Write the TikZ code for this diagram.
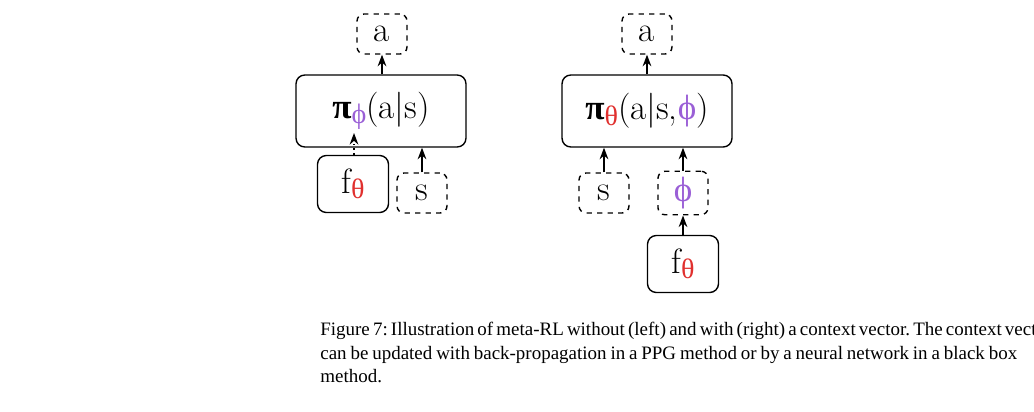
\documentclass[tikz,border=0pt]{standalone}
\usepackage{fontspec}
\setmainfont{Liberation Serif}
\newfontfamily\lmr{Latin Modern Roman}
\usetikzlibrary{arrows.meta}
\definecolor{phicol}{HTML}{9A5FD6}
\definecolor{thetacol}{HTML}{E0302E}
\tikzset{>=Stealth,
  solid box/.style={draw, thick, rounded corners=5pt},
  var box/.style={draw, thick, dashed, rounded corners=4pt, minimum width=1cm, minimum height=0.8cm},
  big/.style={font=\lmr\fontsize{20}{22}\selectfont}}
\newcommand{\gr}[1]{{\rmfamily #1}}
\newcommand{\tht}{\textcolor{thetacol}{\gr{θ}}}
\newcommand{\ph}{\textcolor{phicol}{\gr{ϕ}}}
\newcommand{\sub}[1]{\raisebox{-0.35ex}{\fontsize{16}{18}\selectfont #1}}
\newcommand{\capline}[1]{\makebox[13.94cm][s]{#1}}
\begin{document}
\begin{tikzpicture}[x=0.02cm,y=-0.02cm]
            \useasboundingbox (0,0) rectangle (1034,412);
            
                % left: without context vector
                \node[var box, big] (La) at (382,34) {a};
                \node[solid box, big, minimum width=3.4cm, minimum height=1.44cm] (Lpi) at (381,111) {\gr{\textbf{π}}\sub{\ph}(a|s)};
                \node[solid box, big, minimum width=1.42cm, minimum height=1.14cm] (Lf) at (353,184) {f\sub{\tht}};
                \node[var box, big] (Ls) at (422,193) {s};
                \coordinate (Lphi) at (354,133);
            
                \draw[thick, ->] (Lpi.north -| La) -- (La);
                \draw[thick, dotted, ->] (Lf.north -| Lphi) -- (Lphi);
                \draw[thick, ->] (Ls) -- (Ls |- Lpi.south);
            
                % right: with context vector
                \node[var box, big] (Ra) at (647,34) {a};
                \node[solid box, big, minimum width=3.4cm, minimum height=1.44cm] (Rpi) at (647,111) {\gr{\textbf{π}}\sub{\tht}(a|s,\ph)};
                \node[var box, big] (Rs) at (604,193) {s};
                \node[var box, big] (Rphi) at (683,193) {\ph};
                \node[solid box, big, minimum width=1.42cm, minimum height=1.14cm] (Rf) at (683,264) {f\sub{\tht}};
            
                \draw[thick, ->] (Rpi) -- (Ra);
                \draw[thick, ->] (Rs) -- (Rs |- Rpi.south);
                \draw[thick, ->] (Rphi) -- (Rphi |- Rpi.south);
                \draw[thick, ->] (Rf) -- (Rphi);
            
                \node[anchor=north west, inner sep=0pt, align=left,
                  font=\frenchspacing\fontsize{10.8}{13.4}\selectfont] (cap) at (320,322)
                  {\capline{Figure 7: Illustration of meta-RL without (left) and with (right) a context vector. The context vector}\\
                   \capline{can be updated with back-propagation in a PPG method or by a neural network in a black box}\\
                   method.};
        
            \end{tikzpicture}
\end{document}
